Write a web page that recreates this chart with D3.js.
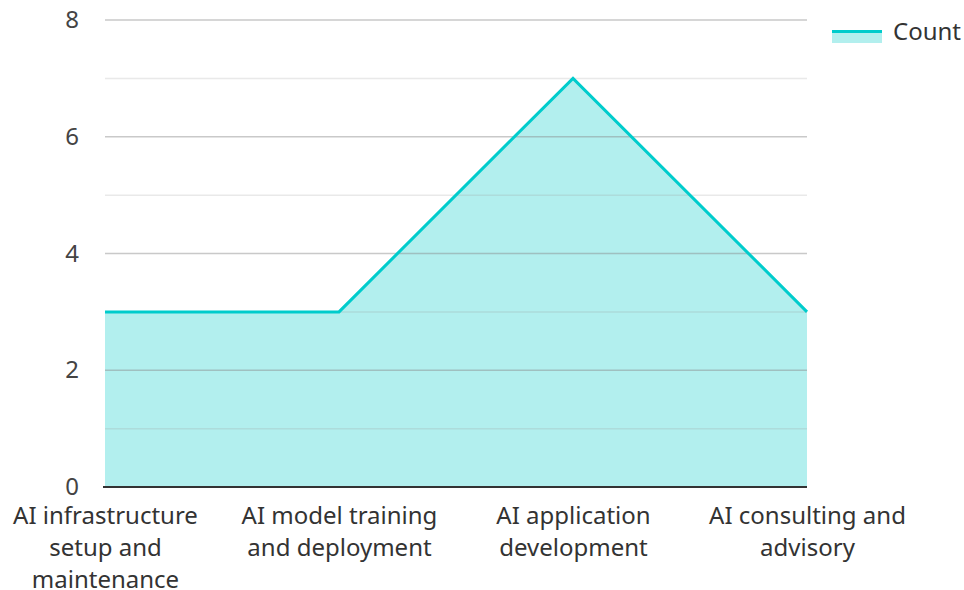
<!DOCTYPE html>
<html>
<head>
<meta charset="utf-8">
<script src="https://cdn.jsdelivr.net/npm/d3@7"></script>
<style>
  body { margin: 0; background: #fff; }
  svg { font-family: "Noto Sans", "Open Sans", sans-serif; }
</style>
</head>
<body>
<svg id="chart" width="964" height="590"></svg>
<script>
var categories = [
    'AI infrastructure setup and maintenance',
    'AI model training and deployment',
    'AI application development',
    'AI consulting and advisory'
];
// wrapped tick labels as shown under the axis
var tickLabels = [
    ['AI infrastructure', 'setup and', 'maintenance'],
    ['AI model training', 'and deployment'],
    ['AI application', 'development'],
    ['AI consulting and', 'advisory']
];
var counts = [3, 3, 7, 3];
var yTicks = [0, 2, 4, 6, 8];
var yMinor = [1, 3, 5, 7];

var FONT = '"Noto Sans", "Open Sans", sans-serif';
var margin = { top: 20, right: 157, bottom: 103, left: 105 };
var svg = d3.select('#chart');
var width = +svg.attr('width') - margin.left - margin.right,
    height = +svg.attr('height') - margin.top - margin.bottom,
    g = svg.append('g').attr('transform', 'translate(' + margin.left + ',' + margin.top + ')');

var x = d3.scalePoint().domain(categories).range([0, width]).padding(0);
var y = d3.scaleLinear().domain([0, 8]).range([height, 0]);

var data = categories.map(function(c, i) { return { cat: c, value: counts[i] }; });

// area first, grid lines show through on top
g.append('path')
    .datum(data)
    .attr('fill', '#b2efee')
    .attr('d', d3.area()
        .x(function(d) { return x(d.cat); })
        .y0(y(0))
        .y1(function(d) { return y(d.value); }));

g.selectAll('.minor')
    .data(yMinor)
    .enter().append('line')
    .attr('x1', 0).attr('x2', width)
    .attr('y1', function(d) { return y(d); })
    .attr('y2', function(d) { return y(d); })
    .attr('stroke', '#999')
    .attr('stroke-opacity', 0.22)
    .attr('stroke-width', 1.5);

g.selectAll('.major')
    .data(yTicks.filter(function(d) { return d !== 0; }))
    .enter().append('line')
    .attr('x1', 0).attr('x2', width)
    .attr('y1', function(d) { return y(d); })
    .attr('y2', function(d) { return y(d); })
    .attr('stroke', '#888')
    .attr('stroke-opacity', 0.45)
    .attr('stroke-width', 1.5);

g.append('path')
    .datum(data)
    .attr('fill', 'none')
    .attr('stroke', '#00cccc')
    .attr('stroke-width', 3)
    .attr('stroke-linejoin', 'miter')
    .attr('d', d3.line()
        .x(function(d) { return x(d.cat); })
        .y(function(d) { return y(d.value); }));

// y axis labels
var yAxis = g.append('g')
    .call(d3.axisLeft(y).tickValues(yTicks).tickSize(0).tickPadding(26));
yAxis.attr('font-size', 24).attr('font-family', FONT);
yAxis.select('.domain').remove();
yAxis.selectAll('text').attr('fill', '#444');

// x axis
var xAxis = g.append('g')
    .attr('transform', 'translate(0,' + height + ')')
    .call(d3.axisBottom(x).tickSize(0).tickFormat(''));
xAxis.attr('font-size', 24).attr('font-family', FONT);
xAxis.select('.domain')
    .attr('stroke', '#333')
    .attr('stroke-width', 2)
    .attr('d', 'M-2,0H' + width);

xAxis.selectAll('.tick').each(function(d, i) {
    var t = d3.select(this).append('text')
        .attr('text-anchor', 'middle')
        .attr('fill', '#333')
        .attr('y', 37);
    tickLabels[i].forEach(function(line, j) {
        t.append('tspan').attr('x', 0).attr('dy', j === 0 ? 0 : 32).text(line);
    });
});

// legend
var legend = svg.append('g').attr('transform', 'translate(832,30)');
legend.append('rect')
    .attr('x', 0).attr('y', 0).attr('width', 50).attr('height', 13)
    .attr('fill', '#b2efee');
legend.append('line')
    .attr('x1', 0).attr('x2', 50).attr('y1', 1.5).attr('y2', 1.5)
    .attr('stroke', '#00cccc').attr('stroke-width', 3);
legend.append('text')
    .attr('x', 61).attr('y', 10)
    .attr('font-size', 24)
    .attr('font-family', FONT)
    .attr('fill', '#333')
    .text('Count');
</script>
</body>
</html>
